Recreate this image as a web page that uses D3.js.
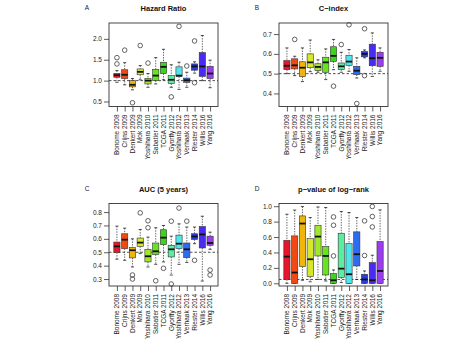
<!DOCTYPE html>
<html>
<head>
<meta charset="utf-8">
<script src="https://cdn.jsdelivr.net/npm/d3@7"></script>
<style>
  body { margin: 0; background: #fff; }
  svg { display: block; font-family: "Liberation Sans", Arial, Helvetica, sans-serif; }
</style>
</head>
<body>
<svg id="chart" width="474" height="344"></svg>
<script>
const studies = ["Bonome 2008", "Crijns 2009", "Denkert 2009", "Mok 2009", "Yoshihara 2010",
  "Sabatier 2011", "TCGA 2011", "Gyorffy 2012", "Yoshihara 2012", "Verhaak 2013",
  "Riester 2014", "Willis 2016", "Yang 2016"];

const boxColors = ["#e8162a", "#f04a14", "#f0b50a", "#d4e82c", "#a0e82a", "#66e420", "#3ed41e",
  "#5aeea0", "#4ee6ea", "#2c6cf0", "#2a3ce6", "#4a2cf0", "#9a3cf0"];

// [lower whisker, Q1, median, Q3, upper whisker] per study
const hazardRatio = [
  [0.96, 1.08, 1.13, 1.17, 1.24], [0.90, 1.05, 1.14, 1.26, 1.43], [0.78, 0.85, 0.90, 1.00, 1.05],
  [1.02, 1.14, 1.21, 1.28, 1.36], [0.84, 0.92, 1.00, 1.055, 1.17], [0.92, 1.00, 1.12, 1.27, 1.55],
  [1.02, 1.17, 1.33, 1.44, 1.75], [0.84, 0.93, 1.02, 1.12, 1.38], [0.79, 1.10, 1.12, 1.33, 1.44],
  [0.84, 0.96, 1.01, 1.06, 1.20], [1.18, 1.25, 1.34, 1.40, 1.45], [1.00, 1.10, 1.34, 1.67, 2.08],
  [0.83, 1.05, 1.17, 1.34, 1.49]];
const hazardOutliers = [[1.55, 1.40], [1.73], [0.47], [1.84], [1.42], [], [], [0.61], [2.30],
  [1.35], [1.95, 0.95], [], []];

const cIndex = [
  [0.50, 0.52, 0.54, 0.566, 0.63], [0.49, 0.524, 0.542, 0.575, 0.588], [0.46, 0.485, 0.53, 0.56, 0.63],
  [0.51, 0.53, 0.557, 0.60, 0.67], [0.507, 0.515, 0.534, 0.55, 0.57], [0.47, 0.507, 0.557, 0.583, 0.625],
  [0.52, 0.562, 0.59, 0.636, 0.673], [0.507, 0.52, 0.537, 0.554, 0.608], [0.512, 0.542, 0.561, 0.593, 0.622],
  [0.478, 0.495, 0.515, 0.537, 0.58], [0.58, 0.585, 0.60, 0.612, 0.62], [0.486, 0.54, 0.578, 0.649, 0.706],
  [0.512, 0.537, 0.58, 0.608, 0.63]];
const cIndexOutliers = [[], [0.673], [], [], [], [], [0.437], [0.647], [0.747], [0.349],
  [0.727, 0.49], [], []];

const auc5y = [
  [0.448, 0.498, 0.544, 0.576, 0.695], [0.44, 0.527, 0.594, 0.638, 0.68], [0.39, 0.458, 0.515, 0.535, 0.60],
  [0.49, 0.544, 0.572, 0.606, 0.67], [0.39, 0.428, 0.47, 0.522, 0.613], [0.41, 0.483, 0.507, 0.569, 0.683],
  [0.428, 0.557, 0.609, 0.668, 0.70], [0.33, 0.465, 0.522, 0.552, 0.62], [0.41, 0.527, 0.564, 0.628, 0.712],
  [0.424, 0.46, 0.522, 0.569, 0.688], [0.564, 0.596, 0.618, 0.638, 0.688], [0.285, 0.532, 0.633, 0.692, 0.769],
  [0.522, 0.552, 0.569, 0.62, 0.65]];
const auc5yOutliers = [[], [], [0.33, 0.30], [0.794], [0.735, 0.683], [0.287], [0.38], [0.732, 0.263],
  [0.83], [0.732], [0.44], [], [0.367, 0.33]];

const logrankP = [
  [0.0, 0.05, 0.346, 0.558, 0.896], [0.0, 0.0, 0.139, 0.615, 0.95], [0.04, 0.217, 0.775, 0.874, 0.995],
  [0.02, 0.087, 0.312, 0.58, 0.853], [0.05, 0.355, 0.606, 0.753, 0.99], [0.03, 0.108, 0.355, 0.477, 0.983],
  [0.0, 0.0, 0.039, 0.126, 0.173], [0.01, 0.074, 0.19, 0.649, 0.931], [0.0, 0.0, 0.117, 0.515, 0.918],
  [0.05, 0.225, 0.377, 0.667, 0.853], [0.0, 0.0, 0.05, 0.117, 0.16], [0.0, 0.0, 0.039, 0.268, 0.364],
  [0.0, 0.0, 0.16, 0.541, 0.952]];
const logrankOutliers = [[], [], [], [], [], [], [0.861, 0.753, 0.355], [], [], [],
  [0.81, 0.36], [0.996, 0.866, 0.731], []];

const hazardTicks = [0.5, 1.0, 1.5, 2.0];
const cIndexTicks = [0.4, 0.5, 0.6, 0.7];
const auc5yTicks = [0.3, 0.4, 0.5, 0.6, 0.7, 0.8];
const logrankTicks = [0.0, 0.2, 0.4, 0.6, 0.8, 1.0];

const svg = d3.select("#chart");
const fmt = d3.format(".1f");

function drawPanel(p) {
  const g = svg.append("g");
  const x = d3.scaleLinear().domain([-0.02, studies.length + 1.02]).range([p.left, p.right]);
  const y = d3.scaleLinear().domain(p.domain).range([p.bottom, p.top]);
  const half = 0.4 * (x(1) - x(0));
  const cap = 0.2 * (x(1) - x(0));

  // reference line
  g.append("line")
    .attr("x1", p.left).attr("x2", p.right)
    .attr("y1", y(p.ref)).attr("y2", y(p.ref))
    .attr("stroke", "#222").attr("stroke-width", 0.8)
    .attr("stroke-dasharray", "2.5,2");

  const box = g.selectAll("g.box").data(p.stats).join("g")
    .attr("class", "box")
    .attr("transform", (d, i) => `translate(${x(i + 1)},0)`);

  // whiskers
  box.append("line")
    .attr("y1", d => y(d[4])).attr("y2", d => y(d[3]))
    .attr("stroke", "#222").attr("stroke-width", 0.7).attr("stroke-dasharray", "1.4,1.2");
  box.append("line")
    .attr("y1", d => y(d[1])).attr("y2", d => y(d[0]))
    .attr("stroke", "#222").attr("stroke-width", 0.7).attr("stroke-dasharray", "1.4,1.2");
  box.append("line")
    .attr("x1", -cap).attr("x2", cap)
    .attr("y1", d => y(d[4])).attr("y2", d => y(d[4]))
    .attr("stroke", "#222").attr("stroke-width", 0.8);
  box.append("line")
    .attr("x1", -cap).attr("x2", cap)
    .attr("y1", d => y(d[0])).attr("y2", d => y(d[0]))
    .attr("stroke", "#222").attr("stroke-width", 0.8);

  box.append("rect")
    .attr("x", -half).attr("width", 2 * half)
    .attr("y", d => y(d[3])).attr("height", d => Math.max(0.5, y(d[1]) - y(d[3])))
    .attr("fill", (d, i) => boxColors[i])
    .attr("stroke", "#333").attr("stroke-width", 0.6);

  box.append("line")
    .attr("x1", -half).attr("x2", half)
    .attr("y1", d => y(d[2])).attr("y2", d => y(d[2]))
    .attr("stroke", "#111").attr("stroke-width", 1.8);

  box.each(function (d, i) {
    d3.select(this).selectAll("circle").data(p.outliers[i]).join("circle")
      .attr("cx", 0).attr("cy", v => y(v)).attr("r", 2.3)
      .attr("fill", "none").attr("stroke", "#222").attr("stroke-width", 0.7);
  });

  // frame
  g.append("rect")
    .attr("x", p.left).attr("y", p.top)
    .attr("width", p.right - p.left).attr("height", p.bottom - p.top)
    .attr("fill", "none").attr("stroke", "#333").attr("stroke-width", 0.9);

  const yAxis = g.append("g")
    .attr("transform", `translate(${p.left},0)`)
    .call(d3.axisLeft(y).tickValues(p.ticks).tickFormat(fmt).tickSize(5).tickPadding(2));
  yAxis.select(".domain").remove();

  const xAxis = g.append("g")
    .attr("transform", `translate(0,${p.bottom})`)
    .call(d3.axisBottom(x).tickValues(d3.range(1, studies.length + 1)).tickFormat("").tickSize(5));
  xAxis.select(".domain").remove();

  g.selectAll(".tick line").attr("stroke", "#333").attr("stroke-width", 0.8);
  yAxis.selectAll("text").attr("font-size", 6.5).attr("fill", "#222").attr("font-family", null);

  g.selectAll("text.study").data(studies).join("text")
    .attr("class", "study")
    .attr("transform", (d, i) => `translate(${x(i + 1)},${p.bottom + 8}) rotate(-90)`)
    .attr("dy", "0.35em")
    .attr("text-anchor", "end")
    .attr("font-size", 6.5).attr("fill", "#222")
    .text(d => d);

  g.append("text")
    .attr("x", (p.left + p.right) / 2).attr("y", p.top - 12)
    .attr("text-anchor", "middle")
    .attr("font-size", 7.5).attr("font-weight", "bold").attr("fill", "#111")
    .text(p.title);

  g.append("text")
    .attr("x", p.left - 22).attr("y", p.top - 13)
    .attr("text-anchor", "middle")
    .attr("font-size", 6.5).attr("fill", "#222")
    .text(p.letter);
}

drawPanel({ letter: "A", title: "Hazard Ratio", left: 109, right: 218, top: 23, bottom: 106.5,
  domain: [0.38, 2.38], ticks: hazardTicks, ref: 1.0, stats: hazardRatio, outliers: hazardOutliers });
drawPanel({ letter: "B", title: "C\u2212index", left: 279, right: 388, top: 23, bottom: 106.5,
  domain: [0.334, 0.756], ticks: cIndexTicks, ref: 0.5, stats: cIndex, outliers: cIndexOutliers });
drawPanel({ letter: "C", title: "AUC (5 years)", left: 109, right: 218, top: 203.5, bottom: 286,
  domain: [0.248, 0.864], ticks: auc5yTicks, ref: 0.5, stats: auc5y, outliers: auc5yOutliers });
drawPanel({ letter: "D", title: "p\u2212value of log\u2212rank", left: 279, right: 388, top: 203.5, bottom: 286,
  domain: [-0.035, 1.035], ticks: logrankTicks, ref: 0.05, stats: logrankP, outliers: logrankOutliers });
</script>
</body>
</html>
